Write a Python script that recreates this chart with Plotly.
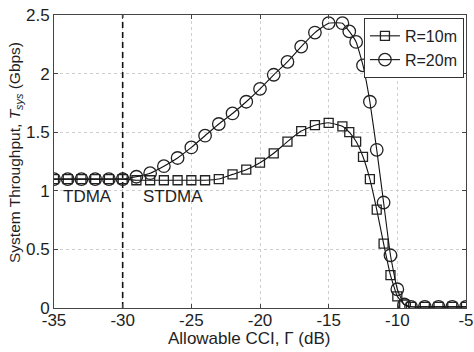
import plotly.graph_objects as go

# ---- data ----
cci_db = [-35, -34, -33, -32, -31, -30, -29, -28, -27, -26, -25, -24, -23, -22, -21,
          -20, -19, -18, -17, -16, -15, -14, -13.5, -13, -12.5, -12, -11.5, -11,
          -10.5, -10, -9.5, -9, -8, -7, -6, -5]

thr_r10 = [1.10, 1.10, 1.10, 1.10, 1.10, 1.10, 1.09, 1.09, 1.09, 1.09, 1.09, 1.09,
           1.10, 1.14, 1.18, 1.24, 1.32, 1.42, 1.51, 1.56, 1.58, 1.55, 1.50, 1.42,
           1.29, 1.10, 0.84, 0.55, 0.28, 0.10, 0.03, 0.01, 0.01, 0.01, 0.01, 0.01]

thr_r20 = [1.10, 1.10, 1.10, 1.10, 1.10, 1.10, 1.12, 1.15, 1.21, 1.28, 1.37, 1.47,
           1.57, 1.66, 1.76, 1.87, 1.99, 2.10, 2.23, 2.35, 2.43, 2.43, 2.36, 2.27,
           2.07, 1.76, 1.35, 0.90, 0.45, 0.16, 0.03, 0.01, 0.01, 0.01, 0.01, 0.01]

series_names = ["R=10m", "R=20m"]
tdma_boundary = -30
y_span = [0, 2.5]

x_ticks = [-35, -30, -25, -20, -15, -10, -5]
x_tick_labels = ["-35", "-30", "-25", "-20", "-15", "-10", "-5"]
y_ticks = [0, 0.5, 1, 1.5, 2, 2.5]
y_tick_labels = ["0", "0.5", "1", "1.5", "2", "2.5"]

region_labels = ["TDMA", "STDMA"]
region_label_x = [-32.55, -26.3]
region_label_y = 0.95

FONT = "Liberation Sans, Arial, sans-serif"
INK = "#1e1e1e"

fig = go.Figure()

# dashed TDMA/STDMA boundary
fig.add_trace(go.Scatter(
    x=[tdma_boundary, tdma_boundary], y=y_span, mode="lines",
    line=dict(color="#111111", width=1.6, dash="6px,4px"),
    showlegend=False, hoverinfo="skip"))

fig.add_trace(go.Scatter(
    x=cci_db, y=thr_r10, mode="lines+markers", name=series_names[0],
    line=dict(color="#111111", width=1.1, shape="spline", smoothing=0.4),
    marker=dict(symbol="square-open", size=9, color="#222222",
                line=dict(color="#222222", width=1.3))))

fig.add_trace(go.Scatter(
    x=cci_db, y=thr_r20, mode="lines+markers", name=series_names[1],
    line=dict(color="#111111", width=1.1, shape="spline", smoothing=0.4),
    marker=dict(symbol="circle-open", size=12.5, color="#222222",
                line=dict(color="#222222", width=1.3))))

for txt, xv in zip(region_labels, region_label_x):
    fig.add_annotation(x=xv, y=region_label_y, text=txt, showarrow=False,
                       xanchor="center", yanchor="middle",
                       font=dict(family=FONT, size=17, color=INK))

# axis titles as annotations for precise placement
fig.add_annotation(xref="paper", yref="paper", x=0.4745, y=-0.104,
                   text="Allowable CCI, \u0393 (dB)", showarrow=False,
                   xanchor="center", yanchor="middle",
                   font=dict(family=FONT, size=17, color=INK))
fig.add_annotation(xref="paper", yref="paper", x=-0.095, y=0.532,
                   text="System Throughput, <i>T</i><sub><i>sys</i></sub> (Gbps)",
                   showarrow=False, textangle=-90,
                   xanchor="center", yanchor="middle",
                   font=dict(family=FONT, size=15.5, color=INK))

axis_common = dict(
    showline=True, linecolor="#444444", linewidth=1, mirror="ticks",
    ticks="inside", ticklen=4, tickcolor="#444444", tickwidth=1,
    showgrid=True, gridcolor="#cfcfcf", gridwidth=1, griddash="dot",
    zeroline=False,
    tickfont=dict(family=FONT, size=17, color=INK),
)

fig.update_xaxes(range=[-35, -5], tickmode="array", tickvals=x_ticks,
                 ticktext=x_tick_labels, ticklabelstandoff=-3, **axis_common)
fig.update_yaxes(range=y_span, tickmode="array", tickvals=y_ticks,
                 ticktext=y_tick_labels, **axis_common)

fig.update_layout(
    width=474, height=352,
    margin=dict(l=54, r=8, t=15, b=44, autoexpand=False),
    paper_bgcolor="white", plot_bgcolor="white",
    font=dict(family=FONT, size=17, color=INK),
    showlegend=True,
    legend=dict(x=0.995, y=0.99, xanchor="right", yanchor="top",
                bgcolor="white", bordercolor="#333333", borderwidth=1,
                font=dict(family=FONT, size=16, color=INK),
                itemwidth=30, tracegroupgap=0),
)

fig.write_html("out.html")
